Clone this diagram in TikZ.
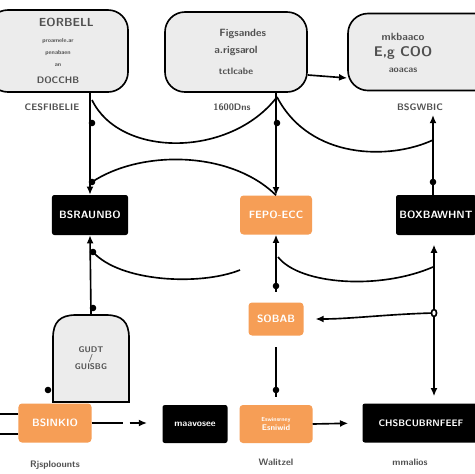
\documentclass[tikz,border=0pt]{standalone}
\usepackage{tikz}
\usetikzlibrary{arrows.meta}
\definecolor{boxorange}{RGB}{246,158,86}
\definecolor{boxgray}{RGB}{236,236,236}
\definecolor{inkgray}{RGB}{80,80,80}

\begin{document}
\begin{tikzpicture}[x=0.03cm,y=-0.03cm,
  cloudbox/.style={draw,line width=1.4pt,fill=boxgray,rounded corners=0.6cm,
    text=inkgray,align=center,font=\sffamily\bfseries,inner sep=0pt},
  darkbox/.style={fill=black,rounded corners=2pt,text=white,
    font=\sffamily\bfseries\small,inner sep=0pt},
  orangebox/.style={fill=boxorange,rounded corners=3pt,text=white,
    font=\sffamily\bfseries\small,inner sep=0pt,align=center},
  caption/.style={text=inkgray,font=\sffamily\bfseries\footnotesize},
  link/.style={line width=1.4pt},
  tip/.style={-{Latex[length=7pt,width=6pt]}}]
  \useasboundingbox (0,0) rectangle (474,474);
  \fill[white] (0,0) rectangle (474,474);

  % top row
  \node[cloudbox,minimum width=4.2cm,minimum height=2.46cm] (topL) at (58,51)
    {{\normalsize\hspace*{0.5cm}EORBELL}\\[2pt]{\tiny proamele.ar}\\[-2pt]{\tiny penabaen}\\[-2pt]
     {\tiny an}\\[3pt]{\footnotesize DOCCHB}};
  \node[cloudbox,minimum width=4.26cm,minimum height=2.4cm] (topM) at (236,52)
    {{\small\hspace*{0.4cm}Figsandes}\\[3pt]{\small a.rigsarol}\\[6pt]{\footnotesize tctlcabe}};
  \node[cloudbox,minimum width=4.56cm,minimum height=2.31cm] (topR) at (424,52) {};
  \node[text=inkgray,font=\sffamily\bfseries,align=center] (topRtxt) at (403,53)
    {{\small mkbaaco}\\[1pt]{\large E,g COO}\\[2pt]{\footnotesize aoacas}};
  \node[caption] (capL) at (52,107) {CESFIBELIE};
  \node[caption] (capM) at (232,107) {1600Dns};
  \node[caption] (capR) at (420,107) {BSGWBIC};

  % middle row
  \node[darkbox,minimum width=2.28cm,minimum height=1.2cm] (midL) at (90,215) {BSRAUNBO};
  \node[orangebox,minimum width=2.16cm,minimum height=1.17cm] (midM) at (276,215) {FEPO-ECC};
  \node[darkbox,minimum width=2.4cm,minimum height=1.2cm] (midR) at (436,215) {BOXBAWHNT};
  \node[orangebox,minimum width=1.65cm,minimum height=0.99cm] (hub) at (276,319) {SOBAB};

  % dome
  \draw[link,fill=boxgray] (53,402) -- (53,338) .. controls (53,322) and (60,315) .. (76,315)
    -- (106,315) .. controls (122,315) and (129,322) .. (129,338) -- (129,402) -- cycle;
  \node[text=inkgray,font=\sffamily\bfseries\scriptsize,align=center,
    minimum width=2.28cm,minimum height=2.61cm] (dome) at (91,358)
    {GUDT\\[-1pt]/\\[-1pt]GUISBG};

  % bottom row
  \draw[link] (18,414) -- (0,414) .. controls (-8,414) and (-8,434) .. (0,434) -- (18,434);
  \node[orangebox,minimum width=2.19cm,minimum height=1.17cm] (botA) at (55,423) {BSINKIO};
  \node[darkbox,minimum width=1.95cm,minimum height=1.14cm,font=\sffamily\bfseries\footnotesize] (botB) at (195,424) {maavosee};
  \node[orangebox,minimum width=2.19cm,minimum height=1.14cm,font=\sffamily\bfseries\tiny] (botC) at (276,424)
    {Eswinsrney\\[2pt]{\scriptsize Esniwid}};
  \node[darkbox,minimum width=3.51cm,minimum height=1.17cm,font=\sffamily\bfseries\footnotesize] (botD) at (421,423) {CHSBCUBRNFEEF};
  \node[caption] (capA) at (55,465) {Rjsploounts};
  \node[caption] (capC) at (276,462) {Walitzel};
  \node[caption] (capD) at (410,462) {mmalios};

  % junction points
  \coordinate (jL1) at (92,100);
  \coordinate (jL2) at (92,182);
  \coordinate (jM1) at (277,97);
  \coordinate (jR1) at (433,140);
  \coordinate (tipR) at (433,115);
  \coordinate (jL3) at (93,252);
  \coordinate (jM2) at (278,257);
  \coordinate (jR2) at (433,267);
  \coordinate (knot) at (434,313);

  % connectors
  \draw[link,tip] (topL.south -| midL.north) -- (midL.north);
  \draw[link,tip] (topM.south -| midM.north) -- (midM.north);
  \draw[link,tip] (midR.north -| tipR) -- (tipR);
  \draw[link,tip] (topM.east |- 0,75) -- (topR.west |- 0,78);
  \draw[link] (jL1) .. controls (120,158) and (230,158) .. (jM1);
  \draw[link] (jL2) .. controls (140,150) and (230,150) .. (midM.north);
  \draw[link] (jM1) .. controls (310,160) and (390,160) .. (jR1);

  \draw[link,tip] (dome.north) -- (midL.south);
  \draw[link,tip,shorten <=9pt] (hub.north) -- (midM.south);
  \draw[link,shorten <=10pt,shorten >=7pt] (hub.south) -- (botC.north);
  \draw[link,{Latex[length=7pt,width=6pt]}-{Latex[length=7pt,width=6pt]},shorten <=8pt,shorten >=6pt]
    (midR.south -| knot) -- (botD.north -| knot);
  \draw[link] (jL3) .. controls (120,282) and (200,286) .. (240,270);
  \draw[link] (jM2) .. controls (300,285) and (380,290) .. (jR2);
  \draw[link,tip,shorten >=10pt] (knot) .. controls (390,314) and (350,319) .. (hub.east);
  \draw[link,fill=white] (knot) ellipse (2.2pt and 3pt);

  \draw[link,tip,dash pattern=on 0.93cm off 0.21cm] (botA.east) -- (147,423);
  \draw[link,tip,shorten >=12pt] (botC.east) -- (botD.west);

  % dots
  \foreach \p in {(92,123),(92,182),(277,123),(433,182),(93,252),(93,308),(276,286),(276,390),(48,390)} {
    \fill \p circle (2.8pt);
  }
\end{tikzpicture}
\end{document}
